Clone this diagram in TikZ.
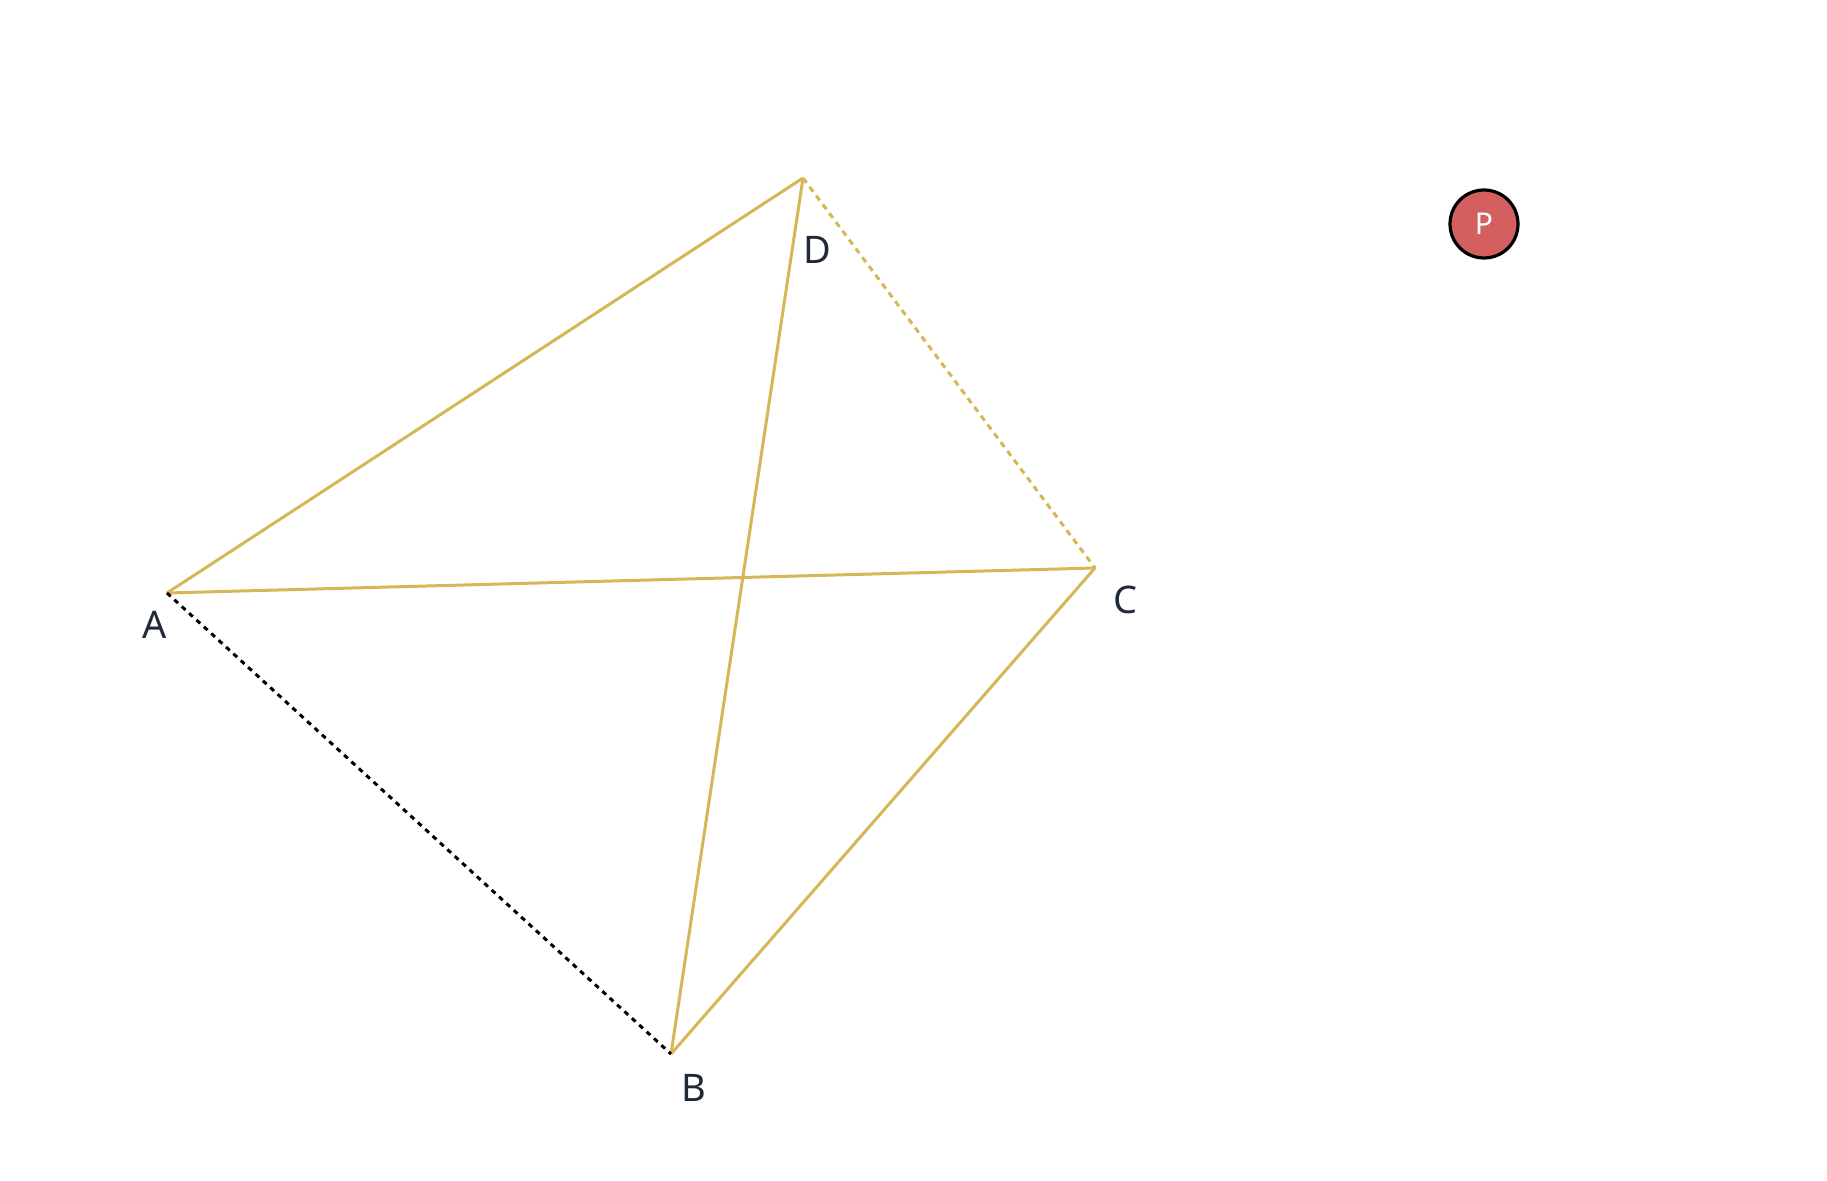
\documentclass[tikz,border=0pt]{standalone}
\usepackage{fontspec}
\setmainfont{Noto Sans}
\definecolor{gold}{HTML}{D6B656}
\definecolor{pred}{HTML}{D35F5F}
\definecolor{lbl}{HTML}{1F2937}
\begin{document}
\begin{tikzpicture}[x=0.5pt,y=-0.5pt,
  vtx/.style={inner sep=0pt,minimum size=0pt},
  lab/.style={font=\fontsize{19}{22}\selectfont,text=lbl,inner sep=0pt},
  edge/.style={draw=gold,line width=1.5pt},
  gdash/.style={draw=gold,line width=1.5pt,dash pattern=on 3pt off 2.5pt},
  bdash/.style={draw=black,line width=1.5pt,dash pattern=on 2.5pt off 2.5pt},
  ball/.style={circle,draw=black,line width=1.6pt,fill=pred,text=white,minimum size=34pt,inner sep=0pt,font=\fontsize{15}{18}\selectfont}]
\useasboundingbox (0,0) rectangle (1827,1181);
\coordinate (A) at (167,593);
\coordinate (B) at (671,1054);
\coordinate (C) at (1095,568);
\coordinate (D) at (803,178);
\node[lab] (la) at (155,625) {A};
\node[lab] (lb) at (694,1088) {B};
\node[lab] (lc) at (1125,600) {C};
\node[lab] (ld) at (817,250) {D};
\node[ball] (P) at (1484,224) {P};
\draw[edge] (A) -- (D);
\draw[edge] (A) -- (C);
\draw[edge] (D) -- (B);
\draw[edge] (B) -- (C);
\draw[gdash] (D) -- (C);
\draw[bdash] (A) -- (B);
\end{tikzpicture}
\end{document}
